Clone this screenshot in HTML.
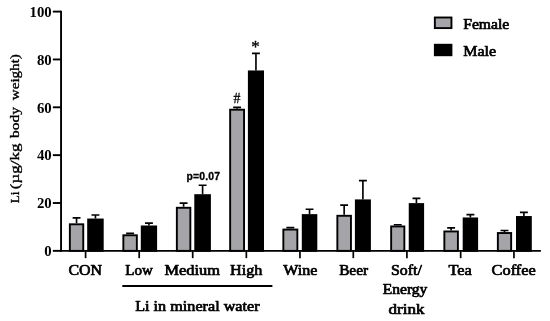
<!DOCTYPE html>
<html><head><meta charset="utf-8"><title>Li chart</title><style>html,body{margin:0;padding:0;background:#fff}svg{display:block}</style></head><body>
<svg width="550" height="321" viewBox="0 0 550 321">
<rect width="550" height="321" fill="#fff"/>
<g stroke="#000" stroke-width="1.90" fill="none" stroke-linecap="butt">
<path stroke-width="1.65" d="M76.55 223.34V217.83M72.60 217.83H80.50"/>
<rect x="69.85" y="224.29" width="13.40" height="26.56" fill="#a5a5a9"/>
<path stroke-width="1.65" d="M95.45 218.55V215.03M91.50 215.03H99.40"/>
<rect x="88.15" y="219.50" width="14.60" height="31.35" fill="#000"/>
<path d="M85.60 250.85V258.15" stroke-width="1.7"/>
<path stroke-width="1.65" d="M130.10 234.34V233.38M126.15 233.38H134.05"/>
<rect x="123.35" y="235.29" width="13.50" height="15.56" fill="#a5a5a9"/>
<path stroke-width="1.65" d="M148.95 225.49V223.10M145.00 223.10H152.90"/>
<rect x="141.75" y="226.44" width="14.40" height="24.41" fill="#000"/>
<path d="M139.20 250.85V258.15" stroke-width="1.7"/>
<path stroke-width="1.65" d="M183.60 206.83V203.05M179.65 203.05H187.55"/>
<rect x="176.85" y="207.78" width="13.50" height="43.07" fill="#a5a5a9"/>
<path stroke-width="1.65" d="M202.60 194.20V185.25M198.65 185.25H206.55"/>
<rect x="195.25" y="195.15" width="14.70" height="55.70" fill="#000"/>
<path d="M192.70 250.85V258.15" stroke-width="1.7"/>
<path stroke-width="1.65" d="M237.10 108.74V107.42M233.15 107.42H241.05"/>
<rect x="230.15" y="109.69" width="13.90" height="141.16" fill="#a5a5a9"/>
<path stroke-width="1.65" d="M255.95 70.46V53.35M252.00 53.35H259.90"/>
<rect x="248.85" y="71.41" width="14.20" height="179.44" fill="#000"/>
<path d="M246.35 250.85V258.15" stroke-width="1.7"/>
<path stroke-width="1.65" d="M290.35 228.60V227.59M286.40 227.59H294.30"/>
<rect x="283.35" y="229.55" width="14.00" height="21.30" fill="#a5a5a9"/>
<path stroke-width="1.65" d="M309.55 214.13V209.22M305.60 209.22H313.50"/>
<rect x="302.75" y="215.08" width="13.60" height="35.77" fill="#000"/>
<path d="M299.95 250.85V258.15" stroke-width="1.7"/>
<path stroke-width="1.65" d="M344.15 214.84V205.15M340.20 205.15H348.10"/>
<rect x="337.35" y="215.79" width="13.60" height="35.06" fill="#a5a5a9"/>
<path stroke-width="1.65" d="M362.90 199.41V180.63M358.95 180.63H366.85"/>
<rect x="355.85" y="200.36" width="14.10" height="50.49" fill="#000"/>
<path d="M353.30 250.85V258.15" stroke-width="1.7"/>
<path stroke-width="1.65" d="M397.75 225.49V224.77M393.80 224.77H401.70"/>
<rect x="391.15" y="226.44" width="13.20" height="24.41" fill="#a5a5a9"/>
<path stroke-width="1.65" d="M416.43 203.12V198.33M412.48 198.33H420.38"/>
<rect x="409.70" y="204.07" width="13.45" height="46.78" fill="#000"/>
<path d="M406.92 250.85V258.15" stroke-width="1.7"/>
<path stroke-width="1.65" d="M451.12 230.51V227.88M447.18 227.88H455.07"/>
<rect x="444.35" y="231.46" width="13.55" height="19.39" fill="#a5a5a9"/>
<path stroke-width="1.65" d="M470.40 217.47V214.60M466.45 214.60H474.35"/>
<rect x="463.65" y="218.42" width="13.50" height="32.43" fill="#000"/>
<path d="M460.67 250.85V258.15" stroke-width="1.7"/>
<path stroke-width="1.65" d="M504.50 232.07V230.51M500.55 230.51H508.45"/>
<rect x="497.85" y="233.02" width="13.30" height="17.83" fill="#a5a5a9"/>
<path stroke-width="1.65" d="M523.90 216.04V212.33M519.95 212.33H527.85"/>
<rect x="516.95" y="216.99" width="13.90" height="33.86" fill="#000"/>
<path d="M513.95 250.85V258.15" stroke-width="1.7"/>
<path d="M61.05 10.65V251.80"/>
<path d="M60.10 250.85H540.90"/>
<path d="M52.85 250.85H61.05"/>
<path d="M52.85 203.00H61.05"/>
<path d="M52.85 155.15H61.05"/>
<path d="M52.85 107.30H61.05"/>
<path d="M52.85 59.45H61.05"/>
<path d="M52.85 11.60H61.05"/>
</g>
<g font-family="'Liberation Serif', serif" font-weight="bold" font-size="14.8" fill="#000" text-anchor="end">
<text x="51.70" y="256.15">0</text>
<text x="51.70" y="208.30">20</text>
<text x="51.70" y="160.45">40</text>
<text x="51.70" y="112.60">60</text>
<text x="51.70" y="64.75">80</text>
<text x="51.70" y="16.90">100</text>
</g>
<g font-family="'Liberation Serif', serif" font-size="13.60" font-weight="normal" fill="#000" stroke="#000" stroke-width="0.65" stroke-linejoin="round">
<text transform="translate(68.41,274.60) scale(1.1719,1)">CON</text>
<text transform="translate(125.20,274.60) scale(1.1050,1)">Low</text>
<text transform="translate(164.50,274.60) scale(1.2065,1)">Medium</text>
<text transform="translate(230.00,274.60) scale(1.1890,1)">High</text>
<text transform="translate(283.19,274.60) scale(1.1793,1)">Wine</text>
<text transform="translate(339.20,274.60) scale(1.1223,1)">Beer</text>
<text transform="translate(391.02,274.60) scale(1.1695,1)">Soft/</text>
<text transform="translate(382.70,294.40) scale(1.1439,1)">Energy</text>
<text transform="translate(388.49,313.80) scale(1.2522,1)">drink</text>
<text transform="translate(448.50,274.60) scale(1.2000,1)">Tea</text>
<text transform="translate(491.60,274.60) scale(1.2055,1)">Coffee</text>
<text transform="translate(135.20,310.50) scale(1.1905,1)">Li in mineral water</text>
<text transform="translate(463.20,28.80) scale(1.1500,1)">Female</text>
<text transform="translate(463.20,55.80) scale(1.1748,1)">Male</text>
</g>
<g font-family="'Liberation Serif', serif" font-size="13.00" font-weight="normal" fill="#000" stroke="#000" stroke-width="0.35" stroke-linejoin="round">
<text transform="translate(18.80,203.26) rotate(-90) scale(1.0222,1)">Li</text>
<text transform="translate(18.80,189.16) rotate(-90) scale(1.3109,1)">(µg/kg</text>
<text transform="translate(18.80,137.90) rotate(-90) scale(1.1886,1)">body</text>
<text transform="translate(18.80,100.21) rotate(-90) scale(1.1620,1)">weight)</text>
</g>
<text x="255.5" y="52.2" text-anchor="middle" font-family="'Liberation Serif', serif" font-size="17" fill="#000" stroke="#000" stroke-width="0.35">*</text>
<text x="236.9" y="103" text-anchor="middle" font-family="'Liberation Serif', serif" font-size="13.8" fill="#000" stroke="#000" stroke-width="0.3">#</text>
<text x="203.4" y="179.6" text-anchor="middle" font-family="'Liberation Sans', sans-serif" font-weight="bold" font-size="10.4" letter-spacing="0.2" fill="#000" stroke="#000" stroke-width="0.3">p=0.07</text>
<path d="M122.3 286.0H272.4" stroke="#000" stroke-width="1.8"/>
<rect x="434.85" y="17.5" width="16.6" height="10.6" fill="#a5a5a9" stroke="#000" stroke-width="1.9"/>
<rect x="434.85" y="44.75" width="16.6" height="10.5" fill="#000" stroke="#000" stroke-width="1.9"/>
</svg>
</body></html>
